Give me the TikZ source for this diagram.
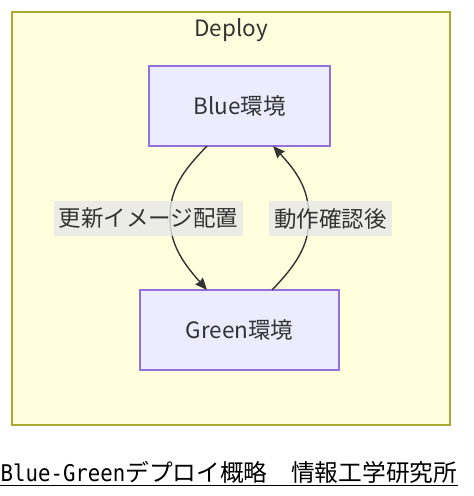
\documentclass[tikz,border=0pt]{standalone}
\usepackage{fontspec}
\setmainfont{Noto Sans CJK JP}
\newfontfamily\capmono[FakeStretch=0.9]{DejaVu Sans Mono}
\newfontfamily\capcjk{Noto Sans CJK JP}
\usetikzlibrary{arrows.meta}
\definecolor{clusterfill}{HTML}{FFFFDE}
\definecolor{clusterline}{HTML}{AAAA33}
\definecolor{nodefill}{HTML}{ECECFF}
\definecolor{nodeline}{HTML}{9370DB}
\definecolor{ink}{HTML}{333333}
\definecolor{labelbg}{HTML}{E8E8E8}
\tikzset{
  cluster/.style={draw=clusterline, fill=clusterfill, line width=1.2bp, inner sep=0pt},
  envbox/.style={draw=nodeline, fill=nodefill, line width=1.2bp, minimum height=80bp, inner sep=0pt, text=ink, font=\fontsize{22.5bp}{26bp}\selectfont},
  edgelabel/.style={fill=labelbg, fill opacity=0.8, text opacity=1, text=ink, minimum height=35bp, inner xsep=5bp, inner ysep=0pt, font=\fontsize{22.5bp}{26bp}\selectfont},
  titletext/.style={text=ink, inner sep=0pt, font=\fontsize{22.5bp}{26bp}\selectfont},
  flow/.style={draw=ink, line width=1.4bp, -{Stealth[length=12bp,width=10bp,inset=1bp]}},
}
\begin{document}
\begin{tikzpicture}[x=1bp,y=-1bp]
\useasboundingbox[fill=white] (0,0) rectangle (474,496);
\node[cluster, minimum width=438bp, minimum height=413bp] (deploy) at (231,218.5) {};
\node[titletext] (deploytitle) at (231,30) {Deploy};
\node[envbox, minimum width=181bp] (blue) at (239.5,106) {Blue環境};
\node[envbox, minimum width=199bp] (green) at (239.5,330) {Green環境};
\coordinate (bs) at (207,146);
\coordinate (bt) at (273,146);
\coordinate (gt) at (207,290);
\coordinate (gs) at (272,290);
\coordinate (lm) at (170,218);
\coordinate (rm) at (309,218);
\draw[flow] (bs) .. controls (183,171) and (170,188) .. (lm) .. controls (170,246) and (185,265) .. (gt);
\draw[flow] (gs) .. controls (296,265) and (309,246) .. (rm) .. controls (309,188) and (296,171) .. (bt);
\node[edgelabel, minimum width=187bp] (lab1) at (148.5,218.5) {更新イメージ配置};
\node[edgelabel, minimum width=117bp] (lab2) at (330.5,218.5) {動作確認後};
\node[anchor=base west, inner sep=0pt, text=black] (caption) at (0.5,481) {{\capmono\fontsize{23bp}{27bp}\selectfont Blue-Green}{\capcjk\fontsize{23.7bp}{27bp}\selectfont デプロイ概略　情報工学研究所}};
\coordinate (ulA) at (0,485.5);
\coordinate (ulB) at (458,485.5);
\draw[black, line width=1.4bp] (ulA) -- (ulB);
\end{tikzpicture}
\end{document}
